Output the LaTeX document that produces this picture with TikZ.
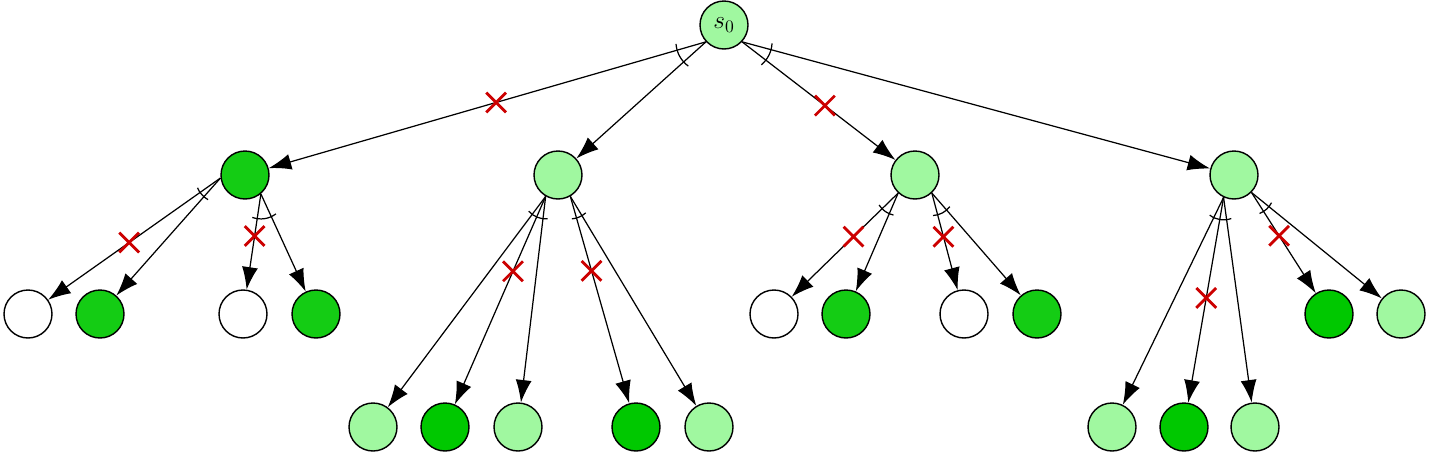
\documentclass[tikz,border=0pt]{standalone}
\usetikzlibrary{arrows.meta,calc,shapes.misc}
\definecolor{lg}{HTML}{A0F8A0}
\definecolor{dg}{HTML}{14CC14}
\definecolor{dg2}{HTML}{00C800}
\tikzset{
  st/.style={circle,draw=black,line width=0.8pt,minimum size=0.96cm,inner sep=0pt},
  L/.style={st,fill=lg}, D/.style={st,fill=dg}, E/.style={st,fill=dg2}, W/.style={st,fill=white},
  ed/.style={line width=0.7pt,-{Latex[length=0.45cm,width=0.32cm]}},
  arcst/.style={line width=0.7pt},
  X/.style={cross out,draw={rgb,255:red,204;green,0;blue,0},line width=1.6pt,minimum size=0.34cm,inner sep=0pt}
}
% start point, start angle, end angle, radius (cm)
\newcommand\andarc[4]{%
  \begin{scope}[x=1cm,y=1cm]
  \draw[arcst] ([shift={(#2:#4)}]#1) arc[start angle=#2,end angle=#3,radius=#4];
  \end{scope}}
\begin{document}
\begin{tikzpicture}[x=0.02cm,y=-0.02cm]
\useasboundingbox (0,0) rectangle (1429,457);
\node[L,font=\Large] (r) at (724,25) {$s_0$};
\node[D] (a) at (245,175) {};
\node[L] (b) at (558,175) {};
\node[L] (c) at (915,175) {};
\node[L] (d) at (1234,175) {};
% children of a
\node[W] (a1) at (28,314) {};
\node[D] (a2) at (100,314) {};
\node[W] (a3) at (243,314) {};
\node[D] (a4) at (316,314) {};
% children of b
\node[L] (b1) at (373,427) {};
\node[E] (b2) at (445,427) {};
\node[L] (b3) at (518,427) {};
\node[E] (b4) at (636,427) {};
\node[L] (b5) at (709,427) {};
% children of c
\node[W] (c1) at (774,314) {};
\node[D] (c2) at (846,314) {};
\node[W] (c3) at (964,314) {};
\node[D] (c4) at (1037,314) {};
% children of d
\node[L] (d1) at (1112,427) {};
\node[E] (d2) at (1184,427) {};
\node[L] (d3) at (1255,427) {};
\node[E] (d4) at (1329,314) {};
\node[L] (d5) at (1401,314) {};
% edges
\draw[ed] (r.-137) -- node[X,pos=0.48]{} (a);
\draw[ed] (r.-137) -- (b);
\draw[ed] (r.-43) -- node[X,pos=0.54]{} (c);
\draw[ed] (r.-43) -- (d);
\andarc{r.-137}{-176}{-126}{0.6}
\andarc{r.-43}{-50}{-3}{0.6}
\draw[ed] (a.-173) -- node[X,pos=0.53]{} (a1);
\draw[ed] (a.-173) -- (a2);
\draw[ed] (a.-50) -- node[X,pos=0.44]{} (a3);
\draw[ed] (a.-50) -- (a4);
\andarc{a.-173}{-157}{-120}{0.5}
\andarc{a.-50}{-110}{-53}{0.5}
\draw[ed] (b.-120) -- (b1);
\draw[ed] (b.-120) -- node[X,pos=0.36]{} (b2);
\draw[ed] (b.-120) -- (b3);
\draw[ed] (b.-60) -- node[X,pos=0.36]{} (b4);
\draw[ed] (b.-60) -- (b5);
\andarc{b.-120}{-139}{-85}{0.45}
\andarc{b.-60}{-86}{-47}{0.45}
\draw[ed] (c.-133) -- node[X,pos=0.42]{} (c1);
\draw[ed] (c.-133) -- (c2);
\draw[ed] (c.-47) -- node[X,pos=0.45]{} (c3);
\draw[ed] (c.-47) -- (c4);
\andarc{c.-133}{-148}{-102}{0.45}
\andarc{c.-47}{-87}{-37}{0.45}
\draw[ed] (d.-115) -- (d1);
\draw[ed] (d.-115) -- node[X,pos=0.49]{} (d2);
\draw[ed] (d.-115) -- (d3);
\draw[ed] (d.-45) -- node[X,pos=0.43]{} (d4);
\draw[ed] (d.-45) -- (d5);
\andarc{d.-115}{-128}{-70}{0.45}
\andarc{d.-45}{-69}{-27}{0.45}
\end{tikzpicture}
\end{document}
